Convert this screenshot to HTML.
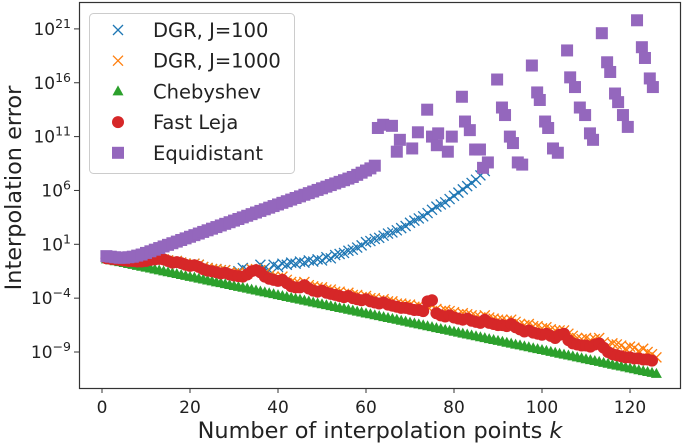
<!DOCTYPE html>
<html><head><meta charset="utf-8"><style>
html,body{margin:0;padding:0;background:#fff;}
svg{display:block;font-family:"DejaVu Sans","Liberation Sans",sans-serif;}
</style></head><body>
<svg id="chart" width="685" height="445" viewBox="0 0 685 445" xmlns="http://www.w3.org/2000/svg">
<rect x="79.5" y="2.5" width="601" height="386" fill="none" stroke="#333" stroke-width="1.2"/>
<g id="axes"></g>
<g id="marks"></g>
<text x="380" y="438" font-size="22.4" text-anchor="middle" fill="#222">Number of interpolation points <tspan font-style="italic">k</tspan></text>
<text transform="translate(21,188) rotate(-90)" font-size="22.4" text-anchor="middle" fill="#222">Interpolation error</text>
<g id="legend"></g>
</svg>
<script>
const xTicks=[0,20,40,60,80,100,120];
const yTickExps=[-9,-4,1,6,11,16,21];
const cheb=[-0.40,-0.49,-0.57,-0.66,-0.74,-0.83,-0.91,-1.00,-1.08,-1.17,-1.25,-1.34,-1.42,-1.51,-1.59,-1.68,-1.76,-1.85,-1.93,-2.02,-2.10,-2.19,-2.27,-2.36,-2.44,-2.53,-2.61,-2.70,-2.78,-2.87,-2.95,-3.04,-3.12,-3.21,-3.29,-3.38,-3.46,-3.55,-3.63,-3.72,-3.80,-3.89,-3.97,-4.06,-4.14,-4.23,-4.31,-4.40,-4.48,-4.57,-4.65,-4.74,-4.82,-4.91,-4.99,-5.08,-5.16,-5.25,-5.33,-5.42,-5.50,-5.59,-5.67,-5.76,-5.84,-5.93,-6.01,-6.10,-6.18,-6.27,-6.35,-6.44,-6.52,-6.61,-6.69,-6.78,-6.86,-6.95,-7.03,-7.12,-7.20,-7.29,-7.37,-7.46,-7.54,-7.63,-7.71,-7.80,-7.88,-7.97,-8.05,-8.14,-8.22,-8.31,-8.39,-8.48,-8.56,-8.65,-8.73,-8.82,-8.90,-8.99,-9.07,-9.16,-9.24,-9.33,-9.41,-9.50,-9.58,-9.67,-9.75,-9.84,-9.92,-10.01,-10.09,-10.18,-10.26,-10.35,-10.43,-10.52,-10.60,-10.69,-10.77,-10.86,-10.94,-11.03];
const leja=[-0.30,-0.35,-0.40,-0.45,-0.50,-0.55,-0.55,-0.60,-0.60,-0.55,-0.45,-0.40,-0.35,-0.40,-0.55,-0.70,-0.65,-0.75,-0.90,-1.00,-0.95,-1.10,-1.30,-1.45,-1.50,-1.60,-1.70,-1.65,-1.80,-1.90,-1.95,-2.00,-1.80,-1.50,-1.40,-1.60,-2.00,-2.20,-2.30,-2.40,-2.30,-2.60,-2.90,-3.00,-3.00,-2.80,-3.10,-3.30,-3.40,-3.30,-3.50,-3.60,-3.70,-3.80,-3.90,-3.80,-4.00,-4.10,-4.20,-4.10,-4.30,-4.40,-4.50,-4.40,-4.60,-4.70,-4.80,-4.90,-4.90,-5.00,-5.10,-5.10,-5.20,-4.30,-4.20,-5.40,-5.60,-5.70,-5.60,-5.80,-5.90,-6.00,-5.90,-6.10,-6.20,-6.30,-6.00,-6.30,-6.40,-6.50,-6.50,-6.60,-6.40,-6.70,-6.90,-7.10,-7.00,-7.20,-7.30,-7.40,-7.30,-7.50,-7.70,-7.40,-7.30,-7.90,-8.20,-8.30,-8.40,-8.40,-8.50,-8.30,-8.20,-8.60,-9.00,-9.20,-9.30,-9.40,-9.50,-9.50,-9.60,-9.60,-9.70,-9.70,-9.80];
const dgr1000=[-0.10,-0.20,-0.30,-0.30,-0.40,-0.45,-0.50,-0.45,-0.50,-0.45,-0.40,-0.35,-0.30,-0.40,-0.50,-0.60,-0.55,-0.70,-0.80,-0.90,-0.80,-0.90,-1.10,-1.20,-1.30,-1.30,-1.40,-1.40,-1.60,-1.70,-1.60,-1.80,-1.70,-1.30,-1.30,-1.40,-1.70,-1.90,-2.00,-2.10,-2.00,-2.30,-2.50,-2.60,-2.70,-2.50,-2.80,-2.90,-3.00,-3.00,-3.20,-3.20,-3.40,-3.40,-3.60,-3.50,-3.70,-3.70,-3.90,-3.80,-4.00,-4.00,-4.20,-4.10,-4.30,-4.30,-4.50,-4.50,-4.60,-4.60,-4.80,-4.70,-4.90,-4.80,-4.70,-5.00,-5.20,-5.10,-5.20,-5.30,-5.50,-5.40,-5.50,-5.60,-5.70,-5.80,-5.60,-5.80,-5.90,-6.00,-6.00,-6.10,-6.00,-6.20,-6.40,-6.50,-6.40,-6.60,-6.60,-6.80,-6.70,-6.90,-7.00,-7.00,-7.00,-7.30,-7.50,-7.70,-7.80,-7.70,-7.90,-7.80,-7.70,-8.10,-8.40,-8.20,-8.30,-8.40,-8.70,-8.50,-8.60,-8.90,-8.70,-9.00,-9.20,-9.50];
const dgr100=[-0.10,-0.20,-0.25,-0.30,-0.40,-0.45,-0.50,-0.45,-0.50,-0.45,-0.40,-0.35,-0.30,-0.40,-0.50,-0.60,-0.55,-0.70,-0.80,-0.90,-0.80,-0.90,-1.10,-1.20,-1.30,-1.30,-1.40,-1.40,-1.60,-1.70,-1.50,-1.20,-1.40,-1.30,-1.50,-0.90,-1.20,-1.40,-0.90,-1.10,-0.80,-0.90,-0.70,-0.80,-0.60,-0.70,-0.50,-0.60,-0.40,-0.50,-0.20,-0.30,0.00,0.10,0.20,0.40,0.50,0.70,0.90,1.20,1.30,1.50,1.60,1.80,2.00,2.10,2.30,2.50,2.70,3.00,3.20,3.40,3.60,3.90,4.20,4.50,4.70,4.90,5.20,5.50,5.80,6.10,6.40,6.70,7.00,7.40,7.80];
const equiLow=[-0.10,-0.15,-0.20,-0.25,-0.25,-0.20,-0.15,-0.05,0.05,0.20,0.35,0.50,0.65,0.80,0.95,1.10,1.25,1.40,1.55,1.70,1.85,2.00,2.15,2.30,2.45,2.60,2.75,2.90,3.05,3.20,3.35,3.50,3.65,3.80,3.95,4.10,4.25,4.40,4.55,4.70,4.85,5.00,5.15,5.30,5.45,5.60,5.75,5.90,6.05,6.20,6.35,6.50,6.65,6.80,6.95,7.10,7.25,7.45,7.65,7.85,8.05,8.30];
const equiHighK=[62.7,63.9,65.9,67.7,67.0,70.5,71.8,73.9,75.0,76.4,76.1,78.6,79.5,81.8,82.5,83.6,84.8,85.9,87.7,86.6,89.8,90.9,91.6,92.7,93.4,94.5,95.5,97.7,98.9,99.5,100.7,101.4,102.5,103.6,105.7,106.4,107.5,108.6,109.8,110.9,111.6,113.6,114.8,115.5,116.6,117.3,118.4,119.5,121.6,122.7,123.4,124.5,125.2];
const equiHighE=[11.8,12.1,12.0,10.7,9.6,9.9,11.4,13.5,11.0,11.3,10.2,9.6,11.0,14.7,12.4,11.6,9.8,9.8,8.6,8.1,16.3,13.7,13.0,11.0,10.4,8.6,8.4,17.6,15.1,14.4,12.4,11.8,9.9,9.5,19.0,16.5,15.6,13.7,13.0,11.3,10.7,20.6,17.9,17.0,15.0,14.2,13.0,11.9,21.8,19.3,18.3,16.4,15.6];

const NS="http://www.w3.org/2000/svg";
function X(k){return 102+k*4.4;}
function Y(e){return 352-(e+9)*10.77;}
function mk(tag,attrs,parent){const el=document.createElementNS(NS,tag);for(const a in attrs)el.setAttribute(a,attrs[a]);parent.appendChild(el);return el;}
const axes=document.getElementById('axes');
xTicks.forEach(t=>{
  const l=mk('line',{x1:X(t),x2:X(t),y1:388,y2:393,stroke:'#333','stroke-width':1},axes);
  
  
  const tx=mk('text',{x:X(t),y:413,'font-size':17,'text-anchor':'middle',fill:'#222'},axes);
  tx.textContent=t;
  
  
});
yTickExps.forEach(e=>{
  const l=mk('line',{x1:74,x2:79,y1:Y(e),y2:Y(e),stroke:'#333','stroke-width':1},axes);
  
  
  const tx=mk('text',{x:71,y:Y(e)+6,'font-size':17,'text-anchor':'end',fill:'#222'},axes);
  
  
  const b=document.createElementNS(NS,'tspan');b.textContent='10';tx.appendChild(b);
  const s=document.createElementNS(NS,'tspan');s.setAttribute('dy','-7');s.setAttribute('font-size','12.5');s.textContent=(e<0?'\u2212'+(-e):''+e);tx.appendChild(s);
});
const marks=document.getElementById('marks');
function marker(type,cx,cy,color,parent,name){
  let el;
  if(type==='x'){
    el=mk('path',{d:`M${cx-5},${cy-5}L${cx+5},${cy+5}M${cx-5},${cy+5}L${cx+5},${cy-5}`,stroke:color,'stroke-width':1.3,fill:'none'},parent);
  }else if(type==='tri'){
    el=mk('path',{d:`M${cx},${cy-6}L${cx+5.5},${cy+4}L${cx-5.5},${cy+4}Z`,fill:color},parent);
  }else if(type==='circ'){
    el=mk('circle',{cx:cx,cy:cy,r:6,fill:color},parent);
  }else{
    el=mk('rect',{x:cx-6,y:cy-6,width:12,height:12,fill:color},parent);
  }
  
  
  return el;
}
dgr100.forEach((e,i)=>marker('x',X(i+1),Y(e),'#1f77b4',marks,'dgr-j100-point'));
dgr1000.forEach((e,i)=>marker('x',X(i+1),Y(e),'#ff7f0e',marks,'dgr-j1000-point'));
cheb.forEach((e,i)=>marker('tri',X(i+1),Y(e),'#2ca02c',marks,'chebyshev-point'));
leja.forEach((e,i)=>marker('circ',X(i+1),Y(e),'#d62728',marks,'fast-leja-point'));
equiLow.forEach((e,i)=>marker('sq',X(i+1),Y(e),'#9467bd',marks,'equidistant-point'));
equiHighK.forEach((k,i)=>marker('sq',X(k),Y(equiHighE[i]),'#9467bd',marks,'equidistant-point'));

const lg=document.getElementById('legend');
const box=mk('rect',{x:89.5,y:13.5,width:205,height:160,rx:4,fill:'#fff','fill-opacity':0.85,stroke:'#ccc','stroke-width':1},lg);


const legLabels=['DGR, J=100','DGR, J=1000','Chebyshev','Fast Leja','Equidistant'];
const legTypes=['x','x','tri','circ','sq'];
const legColors=['#1f77b4','#ff7f0e','#2ca02c','#d62728','#9467bd'];
legLabels.forEach((lab,i)=>{
  const cy=30+i*30.7;
  marker(legTypes[i],118,cy,legColors[i],lg,'legend-marker');
  const t=mk('text',{x:153,y:cy+7,'font-size':19.5,fill:'#222'},lg);
  t.textContent=lab;
  
  
});
</script>
</body></html>
